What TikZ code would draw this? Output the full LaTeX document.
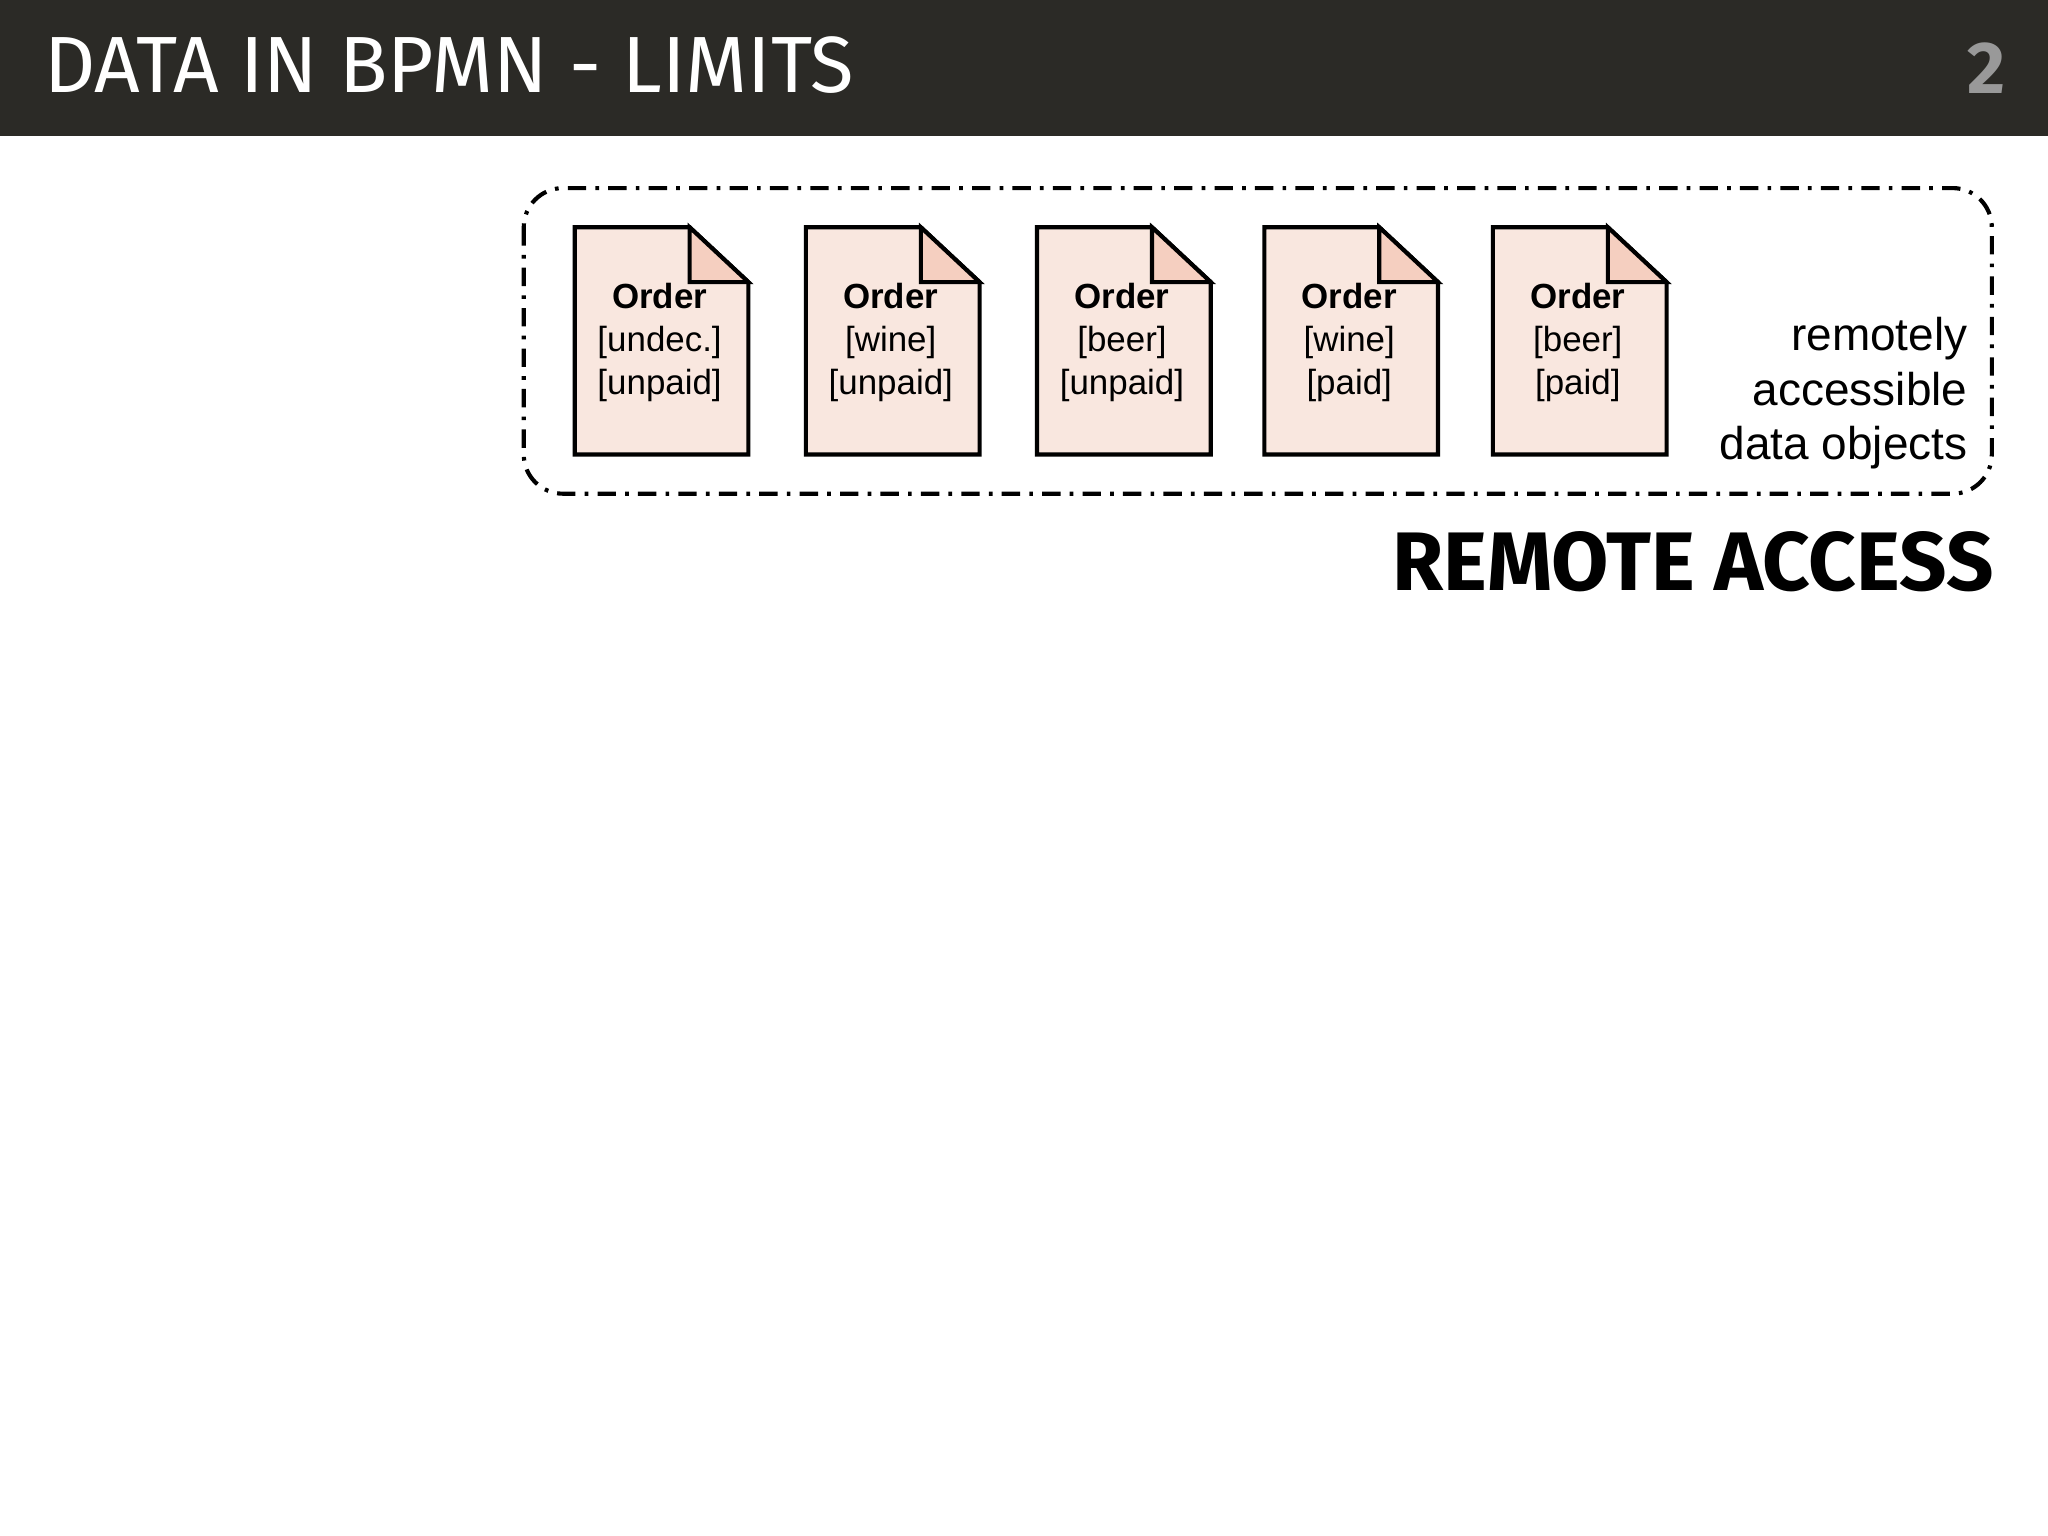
\documentclass[tikz,border=0pt]{standalone}
\usepackage{fontspec}
\setmainfont{Liberation Sans}
\newfontfamily\fira{Fira Sans}
\usepackage{graphicx}
\definecolor{hdr}{HTML}{2B2A26}
\definecolor{docfill}{HTML}{F9E7DF}
\definecolor{foldfill}{HTML}{F5CFC0}
\tikzset{x=0.01cm,y=-0.01cm,
 doctext/.style={align=center,font=\fontsize{7.6pt}{9.4pt}\selectfont,inner sep=0pt}}
\begin{document}
\begin{tikzpicture}
\useasboundingbox (0,0) rectangle (1568,1176);
\fill[white] (0,0) rectangle (1568,1176);
\fill[hdr] (0,0) rectangle (1568,104);
\node[anchor=west,text=white,inner sep=0pt] (title) at (33,50) {\resizebox{6.2cm}{!}{\fira DATA IN BPMN - LIMITS}};
\node[anchor=east,text=gray!80,inner sep=0pt] (num) at (1536,52) {\fira\bfseries\fontsize{16pt}{18pt}\selectfont 2};
\draw[line width=0.9pt,dash pattern=on 4pt off 2pt on 0.8pt off 2pt,rounded corners=0.3cm] (401,144) rectangle (1525,378);
\foreach \x/\n/\a/\b in {440/d1/[undec.]/[unpaid],617/d2/[wine]/[unpaid],794/d3/[beer]/[unpaid],968/d4/[wine]/[paid],1143/d5/[beer]/[paid]}{
  \draw[line width=0.9pt,fill=docfill] (\x,174) -- (\x+88,174) -- (\x+133,216) -- (\x+133,348) -- (\x,348) -- cycle;
  \draw[line width=0.9pt,fill=foldfill] (\x+88,174) -- (\x+88,216) -- (\x+133,216) -- cycle;
  \node[doctext] (\n) at (\x+65,262) {\textbf{Order}\\\a\\\b};
}
\node[anchor=east,align=right,inner sep=0pt,font=\fontsize{10pt}{11.8pt}\selectfont] (ra) at (1507,301) {remotely\\accessible\\data objects};
\node[anchor=east,inner sep=0pt] (big) at (1527,430) {\resizebox{4.6cm}{!}{\fira\bfseries REMOTE ACCESS}};
\end{tikzpicture}
\end{document}
